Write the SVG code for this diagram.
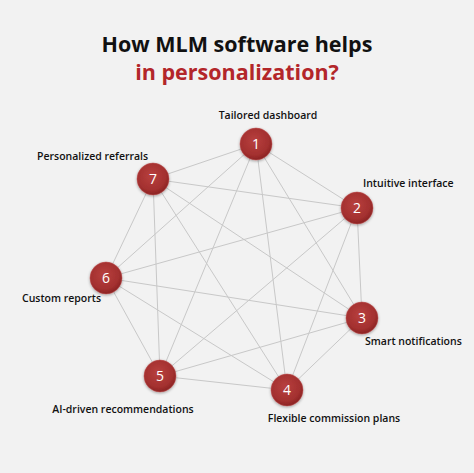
<svg xmlns="http://www.w3.org/2000/svg" width="474" height="473" viewBox="0 0 474 473">
<defs>
<radialGradient id="g" cx="45%" cy="40%" r="60%">
<stop offset="0" stop-color="#b8403f"/>
<stop offset="0.75" stop-color="#a3302f"/>
<stop offset="1" stop-color="#8a2323"/>
</radialGradient>
<filter id="sh" x="-40%" y="-40%" width="180%" height="180%">
<feGaussianBlur in="SourceAlpha" stdDeviation="1.5"/>
<feOffset dx="0" dy="1" result="b"/>
<feComponentTransfer><feFuncA type="linear" slope="0.35"/></feComponentTransfer>
<feMerge><feMergeNode/><feMergeNode in="SourceGraphic"/></feMerge>
</filter>
</defs>
<style>
.t{font-family:"Open Sans","Liberation Sans",sans-serif;font-weight:700;font-size:21.5px;text-anchor:middle}
.lbl{font-family:"Open Sans","Liberation Sans",sans-serif;font-weight:600;font-size:10.5px;fill:#111}
.n circle{fill:url(#g);filter:url(#sh);stroke:#c0504f;stroke-width:1;stroke-opacity:0.5}
.num{font-family:"Open Sans","Liberation Sans",sans-serif;font-size:14px;fill:#fff;text-anchor:middle}
.e line{stroke:#c8c8c8;stroke-width:1}
</style>
<rect width="474" height="473" fill="#f2f2f2"/>
<text class="t" x="237" y="52" fill="#111">How MLM software helps</text>
<text class="t" x="237" y="80" fill="#b3262a">in personalization?</text>
<g id="connectors" class="e">
<line x1="256" y1="144" x2="357" y2="208"/>
<line x1="256" y1="144" x2="362" y2="318"/>
<line x1="256" y1="144" x2="287" y2="390"/>
<line x1="256" y1="144" x2="160" y2="376"/>
<line x1="256" y1="144" x2="106" y2="278"/>
<line x1="256" y1="144" x2="153" y2="179"/>
<line x1="357" y1="208" x2="362" y2="318"/>
<line x1="357" y1="208" x2="287" y2="390"/>
<line x1="357" y1="208" x2="160" y2="376"/>
<line x1="357" y1="208" x2="106" y2="278"/>
<line x1="357" y1="208" x2="153" y2="179"/>
<line x1="362" y1="318" x2="287" y2="390"/>
<line x1="362" y1="318" x2="160" y2="376"/>
<line x1="362" y1="318" x2="106" y2="278"/>
<line x1="362" y1="318" x2="153" y2="179"/>
<line x1="287" y1="390" x2="160" y2="376"/>
<line x1="287" y1="390" x2="106" y2="278"/>
<line x1="287" y1="390" x2="153" y2="179"/>
<line x1="160" y1="376" x2="106" y2="278"/>
<line x1="160" y1="376" x2="153" y2="179"/>
<line x1="106" y1="278" x2="153" y2="179"/>
</g>
<g id="node1" class="n"><circle cx="256" cy="144" r="16"/><text class="num" x="256" y="149">1</text><text class="lbl" x="268" y="119" text-anchor="middle">Tailored dashboard</text></g>
<g id="node2" class="n"><circle cx="357" cy="208" r="16"/><text class="num" x="357" y="213">2</text><text class="lbl" x="363" y="187">Intuitive interface</text></g>
<g id="node3" class="n"><circle cx="362" cy="318" r="16"/><text class="num" x="362" y="323">3</text><text class="lbl" x="365" y="345">Smart notifications</text></g>
<g id="node4" class="n"><circle cx="287" cy="390" r="16"/><text class="num" x="287" y="395">4</text><text class="lbl" x="334" y="422" text-anchor="middle">Flexible commission plans</text></g>
<g id="node5" class="n"><circle cx="160" cy="376" r="16"/><text class="num" x="160" y="381">5</text><text class="lbl" x="123" y="413" text-anchor="middle">AI-driven recommendations</text></g>
<g id="node6" class="n"><circle cx="106" cy="278" r="16"/><text class="num" x="106" y="283">6</text><text class="lbl" x="22" y="302">Custom reports</text></g>
<g id="node7" class="n"><circle cx="153" cy="179" r="16"/><text class="num" x="153" y="184">7</text><text class="lbl" x="37" y="160">Personalized referrals</text></g>
</svg>
